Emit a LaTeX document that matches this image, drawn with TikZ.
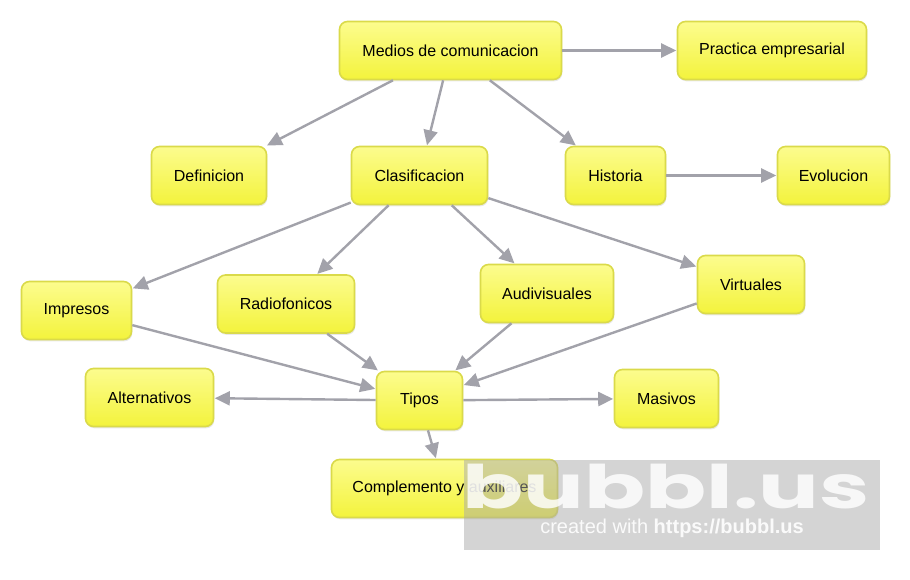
\documentclass[tikz,border=0pt]{standalone}
\usepackage{fontspec}
\setmainfont{Liberation Sans}
\newfontfamily\logofont{Poppins}
\usetikzlibrary{arrows.meta,shadows,positioning}
\definecolor{nodeborder}{HTML}{DADA4A}
\definecolor{nodetop}{HTML}{FCFC8E}
\definecolor{nodebot}{HTML}{F3F33C}
\definecolor{arrowgray}{HTML}{A2A2AA}
\definecolor{wmgray}{HTML}{A9A9A9}
\tikzset{
  bubble/.style={draw=nodeborder, line width=1.6pt, rounded corners=8pt,
    top color=nodetop, bottom color=nodebot, minimum height=58pt,
    font=\fontsize{16}{19}\selectfont, text=black, inner xsep=4pt,
    drop shadow={opacity=0.18, shadow xshift=0.8pt, shadow yshift=-1.8pt}},
  link/.style={draw=arrowgray, line width=2.4pt,
    -{Triangle[length=15pt,width=14pt]}, shorten >=0.5pt}
}
\begin{document}
\begin{tikzpicture}[x=1pt,y=-1pt]
\useasboundingbox (0,0) rectangle (910,580);
\node[bubble, minimum width=222pt] (medios) at (450.5,50.5) {Medios de comunicacion};
\node[bubble, minimum width=189pt] (practica) at (772,50.5) {Practica empresarial};
\node[bubble, minimum width=115pt] (definicion) at (209,175.5) {Definicion};
\node[bubble, minimum width=136pt] (clasif) at (419.5,175.5) {Clasificacion};
\node[bubble, minimum width=100pt] (historia) at (615.5,175.5) {Historia};
\node[bubble, minimum width=112pt] (evolucion) at (833.5,175.5) {Evolucion};
\node[bubble, minimum width=110pt] (impresos) at (76.5,310.5) {Impresos};
\node[bubble, minimum width=137pt] (radio) at (286,304) {Radiofonicos};
\node[bubble, minimum width=133pt] (audi) at (547,293.5) {Audivisuales};
\node[bubble, minimum width=107pt] (virtuales) at (751,284.5) {Virtuales};
\node[bubble, minimum width=128pt] (alternativos) at (149.5,397.5) {Alternativos};
\node[bubble, minimum width=86pt] (tipos) at (419.5,400.5) {Tipos};
\node[bubble, minimum width=104pt] (masivos) at (666.5,398.5) {Masivos};
\node[bubble, minimum width=226pt] (complemento) at (444.5,488.5) {Complemento y auxiliares};

\draw[link] (medios) -- (practica);
\draw[link] (medios) -- (definicion);
\draw[link] (medios) -- (clasif);
\draw[link] (medios) -- (historia);
\draw[link] (historia) -- (evolucion);
\draw[link] (clasif) -- (impresos);
\draw[link] (clasif) -- (radio);
\draw[link] (clasif) -- (audi);
\draw[link] (clasif) -- (virtuales);
\draw[link] (impresos) -- (tipos);
\draw[link] (radio) -- (tipos);
\draw[link] (audi) -- (tipos);
\draw[link] (virtuales) -- (tipos);
\draw[link] (tipos) -- (alternativos);
\draw[link] (tipos) -- (masivos);
\draw[link] (tipos) -- (complemento);

% watermark
\fill[wmgray, opacity=0.5] (464,460) rectangle (880,550);
\node[anchor=center, text=white, text opacity=0.82, inner sep=0pt, xscale=1.5,
  font=\logofont\bfseries\fontsize{60}{60}\selectfont] (logo) at (666,487) {bubbl.us};
\node[anchor=center, text=white, text opacity=0.9, inner sep=0pt,
  font=\fontsize{20}{22}\selectfont] (credit) at (672,528) {created with \textbf{https://bubbl.us}};
\end{tikzpicture}
\end{document}
